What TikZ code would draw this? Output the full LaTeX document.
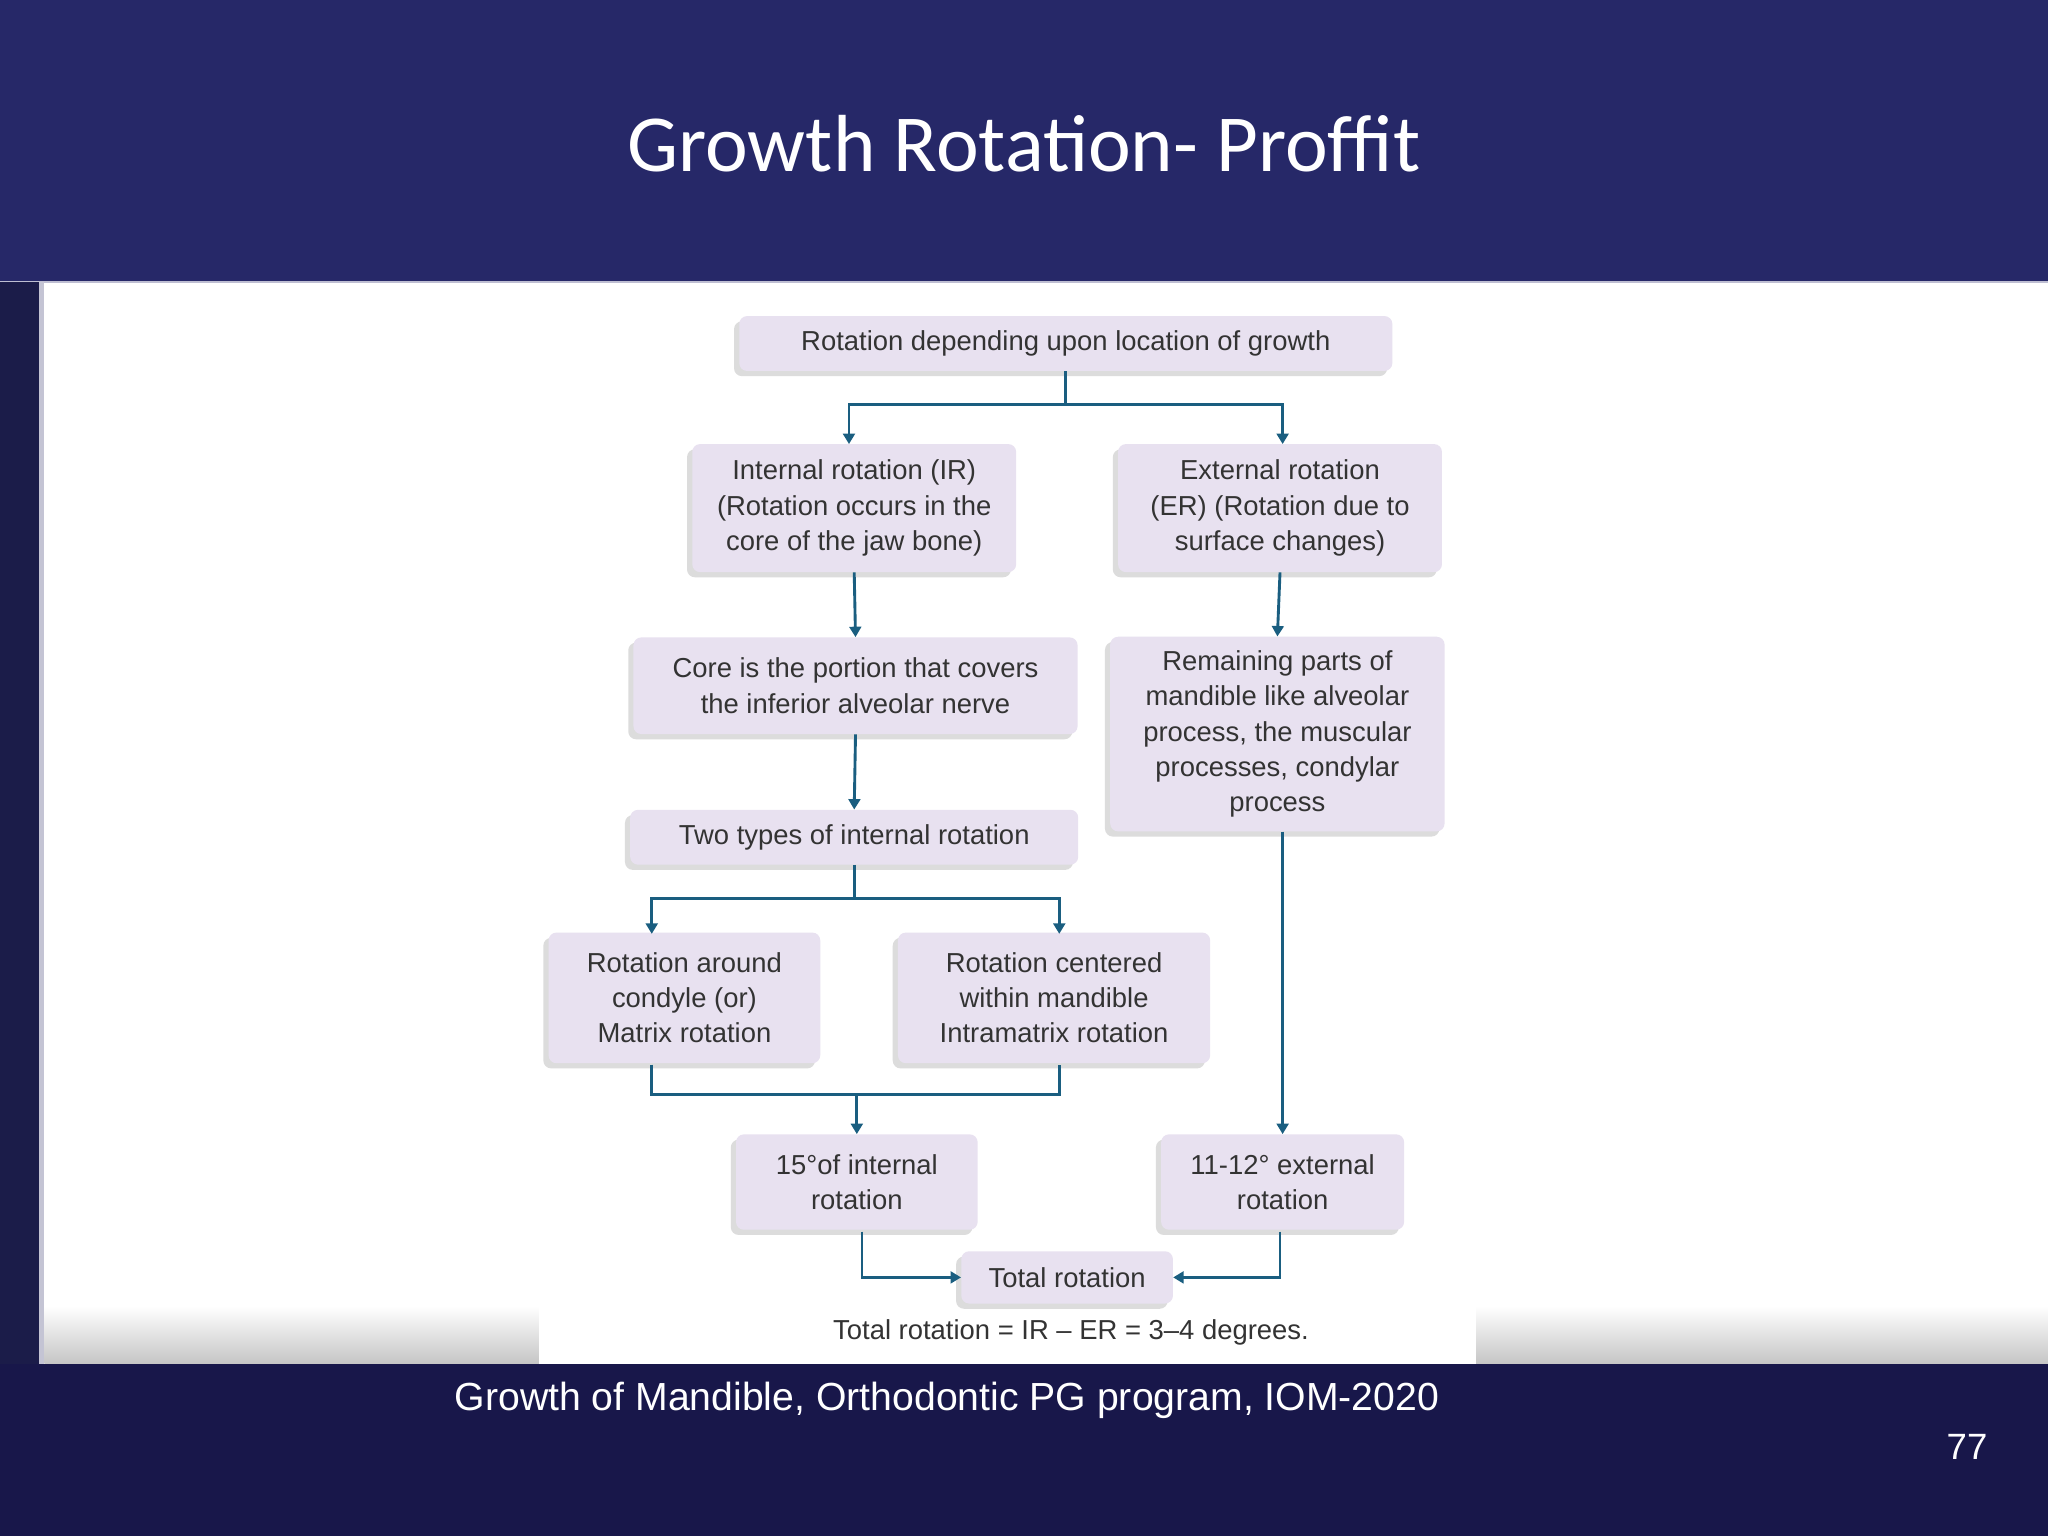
\documentclass[tikz,border=0pt]{standalone}
\usepackage{fontspec}
\setmainfont{Liberation Sans}
\newfontfamily\titlefont{Carlito}
\usetikzlibrary{arrows.meta,shadows}
\definecolor{band}{HTML}{262868}
\definecolor{foot}{HTML}{18174A}
\definecolor{boxfill}{HTML}{E8E1F0}
\definecolor{arr}{HTML}{1A5E80}
\definecolor{txt}{HTML}{333333}
\begin{document}
\begin{tikzpicture}[x=1pt,y=-1pt,
 fbox/.style={fill=boxfill,rounded corners=0pt, rounded corners=6pt,align=center,text=txt,
   font=\fontsize{21}{27}\selectfont,inner sep=0pt,
   drop shadow={shadow xshift=-4pt,shadow yshift=-4pt,fill=gray!45,opacity=0.6}},
 con/.style={draw=arr,line width=2.2pt},
 arw/.style={con,-{Triangle[width=9pt,length=8pt]}}]
\useasboundingbox (0,0) rectangle (1568,1176);
\fill[white] (0,0) rectangle (1568,1176);
\fill[band] (0,0) rectangle (1568,216);
\draw[white!70!band,line width=1.5pt] (0,216) -- (1568,216);
\fill[band!70!black] (0,216) rectangle (30,1045);
\fill[blue!15!gray!40] (30,216) rectangle (34,1045);
\shade[top color=white,bottom color=gray!45] (34,1000) rectangle (1568,1044);
\fill[white] (413,990) rectangle (1130,1044);
\fill[foot] (0,1044) rectangle (1568,1176);
\node[text=white,font=\titlefont\fontsize{62}{70}\selectfont] (title) at (784,110) {Growth Rotation- Proffit};
\node[text=white,font=\fontsize{30}{34}\selectfont] (footer) at (725,1072) {Growth of Mandible, Orthodontic PG program, IOM-2020};
\node[text=white,font=\fontsize{28}{32}\selectfont] (page) at (1506,1108) {77};

\node[fbox,minimum width=500pt,minimum height=42pt] (top) at (816,263) {Rotation depending upon location of growth};
\node[fbox,minimum width=248pt,minimum height=98pt] (ir) at (654,389) {Internal rotation (IR)\\(Rotation occurs in the\\core of the jaw bone)};
\node[fbox,minimum width=248pt,minimum height=98pt] (er) at (980,389) {External rotation\\(ER) (Rotation due to\\surface changes)};
\node[fbox,minimum width=340pt,minimum height=74pt] (core) at (655,525) {Core is the portion that covers\\the inferior alveolar nerve};
\node[fbox,minimum width=256pt,minimum height=149pt] (rem) at (978,562) {Remaining parts of\\mandible like alveolar\\process, the muscular\\processes, condylar\\process};
\node[fbox,minimum width=343pt,minimum height=42pt] (two) at (654,641) {Two types of internal rotation};
\node[fbox,minimum width=208pt,minimum height=100pt] (mat) at (524,764) {Rotation around\\condyle (or)\\Matrix rotation};
\node[fbox,minimum width=239pt,minimum height=100pt] (intra) at (807,764) {Rotation centered\\within mandible\\Intramatrix rotation};
\node[fbox,minimum width=185pt,minimum height=73pt] (ir15) at (656,905) {15\textdegree of internal\\rotation};
\node[fbox,minimum width=186pt,minimum height=73pt] (er11) at (982,905) {11-12\textdegree\ external\\rotation};
\node[fbox,minimum width=162pt,minimum height=40pt] (tot) at (817,978) {Total rotation};
\node[text=txt,font=\fontsize{21}{25}\selectfont] (cap) at (820,1020) {Total rotation = IR -- ER = 3--4 degrees.};

\coordinate (s1) at (816,310);
\draw[con] (top.south) -- (s1);
\draw[arw] (s1) -| (650,340);
\draw[arw] (s1) -| (982,340);
\draw[arw] (ir.south) -- (core.north);
\draw[arw] (er.south) -- (rem.north);
\draw[arw] (core.south) -- (two.north);
\coordinate (s2) at (654,688);
\draw[con] (two.south) -- (s2);
\draw[arw] (s2) -| (499,715);
\draw[arw] (s2) -| (811,715);
\coordinate (j) at (656,838);
\draw[con] (499,815) |- (j) -| (811,815);
\draw[arw] (j) -- (ir15.north);
\draw[arw] (rem.south -| er11.north) -- (er11.north);
\draw[arw] (660,943) |- (tot.west);
\draw[arw] (980,943) |- (tot.east);
\end{tikzpicture}
\end{document}
